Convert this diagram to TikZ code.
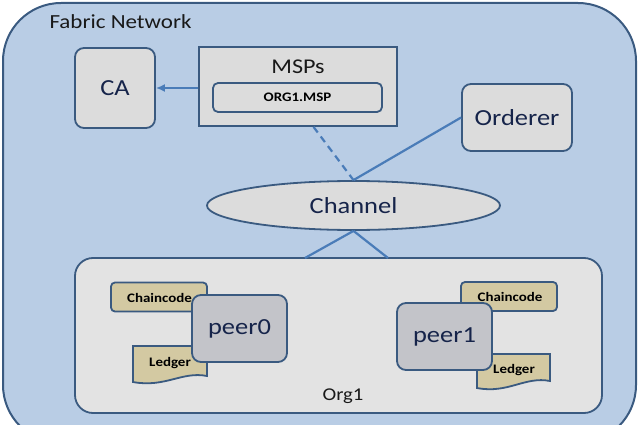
\documentclass[tikz,border=0pt]{standalone}
\usepackage{fontspec}
\setmainfont[FakeStretch=1.15]{Carlito}
\usetikzlibrary{shapes.geometric,arrows.meta}
\definecolor{netblue}{HTML}{B9CDE5}
\definecolor{edgeblue}{HTML}{3A5A80}
\definecolor{linkblue}{HTML}{4A7CB8}
\definecolor{boxgray}{HTML}{DCDCDC}
\definecolor{orggray}{HTML}{E3E3E3}
\definecolor{peergray}{HTML}{C3C4C9}
\definecolor{tanfill}{HTML}{D3C9A2}
\definecolor{navytext}{HTML}{16244A}

\begin{document}
\begin{tikzpicture}[x=1pt, y=-1pt,
  box/.style={draw=edgeblue, line width=1.8pt, fill=boxgray, rounded corners=9pt,
    text=navytext, font=\fontsize{23}{25}\selectfont},
  peer/.style={box, fill=peergray, minimum width=95pt, minimum height=67pt},
  tag/.style={draw=edgeblue, line width=1.8pt, fill=tanfill, rounded corners=4pt,
    minimum width=96pt, minimum height=29pt},
  small/.style={font=\bfseries\fontsize{13}{15}\selectfont, text=black},
  link/.style={linkblue, line width=2.2pt}
]
  \clip (0,0) rectangle (640,425);

  % Network frame
  \draw[draw=edgeblue, line width=2pt, fill=netblue, rounded corners=58pt]
    (3,3) rectangle (636,443);
  \node[font=\fontsize{20}{22}\selectfont, text=black!90] (title) at (120.5,22) {Fabric Network};

  % CA and MSPs
  \node[box, minimum width=80pt, minimum height=80pt] (ca) at (115,88) {CA};
  \node[box, rounded corners=0pt, minimum width=198pt, minimum height=79pt] (msps) at (298,86.5) {};
  \node[font=\fontsize{21}{23}\selectfont, text=black!90] (mspslabel) at (298,67) {MSPs};
  \node[box, rounded corners=5pt, minimum width=169pt, minimum height=29pt, small] (orgmsp)
    at (297.5,97.5) {ORG1.MSP};
  \draw[link, -{Latex[length=9pt,width=8pt]}] (msps.west |- ca.east) -- (ca.east);

  % Orderer and channel
  \node[box, minimum width=110pt, minimum height=67pt] (orderer) at (517,117.5) {Orderer};
  \node[box, ellipse, minimum width=293pt, minimum height=49pt, inner sep=0pt] (channel)
    at (353.5,205.5) {Channel};
  \draw[link, dash pattern=on 7pt off 5pt] (msps.-69) -- (channel.north);
  \draw[link] (orderer.west) -- (channel.north);

  % Org1
  \node[box, fill=orggray, rounded corners=18pt, minimum width=527pt, minimum height=155pt] (org1)
    at (338.5,335.5) {};
  \node[font=\fontsize{18}{20}\selectfont, text=black!90] (org1label) at (343,396) {Org1};
  \coordinate (tap0) at (305,258);
  \coordinate (tap1) at (388,258);
  \draw[link] (channel.south) -- (tap0);
  \draw[link] (channel.south) -- (tap1);

  % peer0 with its chaincode and ledger
  \node[tag] (cc0) at (159,297) {};
  \node[small] (cc0label) at (159.5,298) {Chaincode};
  \draw[draw=edgeblue, line width=1.8pt, fill=tanfill]
    (133,346) -- (207,346) -- (207,376) .. controls (182,371) and (165,388) .. (133,382) -- cycle;
  \node[small] (ledger0) at (170,363) {Ledger};
  \node[peer] (peer0) at (239.5,328.5) {peer0};

  % peer1 with its chaincode and ledger
  \node[tag] (cc1) at (509,296.5) {};
  \node[small] (cc1label) at (510,297) {Chaincode};
  \draw[draw=edgeblue, line width=1.8pt, fill=tanfill]
    (477,354) -- (550,354) -- (550,381) .. controls (525,376) and (508,394) .. (477,388) -- cycle;
  \node[small] (ledger1) at (514,370) {Ledger};
  \node[peer] (peer1) at (444.5,336.5) {peer1};
\end{tikzpicture}
\end{document}
